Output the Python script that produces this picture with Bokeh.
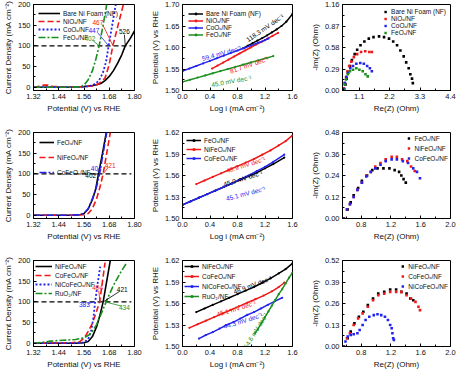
from bokeh.plotting import figure
from bokeh.layouts import gridplot
from bokeh.models import Range1d, FixedTicker, NumeralTickFormatter, Label
from bokeh.core.properties import value
from bokeh.embed import file_html
from bokeh.resources import INLINE

FONT = "Liberation Sans"
CK = "#000000"
CR = "#f01818"
CB = "#2323ee"
CG = "#1a8f1e"

# ---------------- data ----------------
# (A) LSV
A_v_nf = [1.32, 1.40, 1.48, 1.54, 1.56, 1.58, 1.60, 1.62, 1.64, 1.66, 1.68, 1.70, 1.72, 1.74, 1.756, 1.78, 1.80]
A_j_nf = [0, 0, 0, 1, 1.5, 2.5, 4, 6, 9, 16, 26, 40, 58, 79, 100, 118, 136]
A_v_ni = [1.32, 1.35, 1.37, 1.39, 1.41, 1.44, 1.50, 1.56, 1.60, 1.63, 1.66, 1.68, 1.697, 1.722, 1.747]
A_j_ni = [0, 2, 5, 5, 2, 1, 1, 1, 3, 8, 22, 55, 100, 150, 200]
A_v_co = [1.32, 1.50, 1.56, 1.60, 1.63, 1.65, 1.665, 1.677, 1.69, 1.70, 1.711]
A_j_co = [0, 0, 1, 4, 15, 35, 62, 100, 138, 168, 200]
A_v_fe = [1.32, 1.50, 1.54, 1.56, 1.58, 1.60, 1.615, 1.632, 1.65, 1.668]
A_j_fe = [0, 0, 1, 5, 18, 40, 65, 100, 148, 200]
A_ann_text = ["467", "447", "402", "526"]
A_ann_x = [1.626, 1.607, 1.588, 1.752]
A_ann_y = [156, 138, 118, 134]
A_arr_x0 = [1.650, 1.626, 1.604, 1.752]
A_arr_y0 = [150, 131, 112, 127]
A_arr_x1 = [1.697, 1.676, 1.630, 1.756]
A_arr_y1 = [101, 101, 101, 101]

# (B) Tafel
B_nf_x = [0.88, 0.95, 1.02, 1.09, 1.16, 1.23, 1.30, 1.37, 1.44, 1.51, 1.60]
B_nf_y = [1.598, 1.604, 1.610, 1.616, 1.622, 1.628, 1.635, 1.642, 1.650, 1.660, 1.678]
B_ni_x = [0.43, 0.51, 0.59, 0.67, 0.75, 0.83, 0.91, 0.99, 1.07, 1.15, 1.23, 1.31, 1.39]
B_ni_y = [1.551, 1.558, 1.565, 1.572, 1.579, 1.586, 1.593, 1.600, 1.607, 1.613, 1.620, 1.627, 1.634]
B_co_x = [0.0, 0.1, 0.2, 0.3, 0.4, 0.5, 0.6, 0.7, 0.8, 0.9, 1.0, 1.1, 1.2, 1.25]
B_co_y = [1.545, 1.551, 1.557, 1.563, 1.569, 1.575, 1.581, 1.587, 1.593, 1.599, 1.605, 1.611, 1.617, 1.621]
B_fe_x = [0.0, 0.11, 0.22, 0.33, 0.44, 0.55, 0.66, 0.77, 0.88, 0.99, 1.10, 1.21, 1.32]
B_fe_y = [1.520, 1.525, 1.530, 1.535, 1.540, 1.545, 1.550, 1.555, 1.560, 1.565, 1.570, 1.575, 1.580]
B_ann_text = ["118.3 mV dec⁻¹", "59.4 mV dec⁻¹", "81.7 mV dec⁻¹", "45.0 mV dec⁻¹"]
B_ann_x = [1.20, 0.57, 0.97, 0.71]
B_ann_y = [1.646, 1.587, 1.560, 1.522]
B_ann_ang = [0.60, 0.28, 0.33, 0.18]

# (C) Nyquist
C_nf_x = [0.56, 0.61, 0.65, 0.70, 0.77, 0.84, 0.94, 1.03, 1.15, 1.29, 1.45, 1.62, 1.82, 2.00, 2.18, 2.33, 2.47, 2.59, 2.71, 2.80, 2.89, 2.95, 3.01, 3.04]
C_nf_y = [0.02, 0.08, 0.16, 0.24, 0.33, 0.41, 0.49, 0.55, 0.61, 0.66, 0.70, 0.72, 0.73, 0.72, 0.70, 0.66, 0.61, 0.54, 0.46, 0.38, 0.30, 0.22, 0.16, 0.10]
C_ni_x = [0.54, 0.58, 0.63, 0.68, 0.74, 0.82, 0.91, 1.03, 1.17, 1.32, 1.47, 1.56]
C_ni_y = [0.03, 0.10, 0.18, 0.26, 0.33, 0.39, 0.45, 0.49, 0.52, 0.53, 0.52, 0.52]
C_co_x = [0.55, 0.59, 0.64, 0.70, 0.78, 0.88, 1.00, 1.14, 1.27, 1.39, 1.49, 1.56]
C_co_y = [0.02, 0.10, 0.18, 0.24, 0.30, 0.33, 0.36, 0.37, 0.36, 0.33, 0.30, 0.26]
C_fe_x = [0.54, 0.58, 0.63, 0.69, 0.77, 0.88, 1.00, 1.11, 1.23, 1.33, 1.41]
C_fe_y = [0.01, 0.08, 0.15, 0.22, 0.26, 0.28, 0.30, 0.28, 0.26, 0.22, 0.19]

# (D) LSV
D_v_fe = [1.32, 1.50, 1.54, 1.56, 1.58, 1.60, 1.615, 1.629, 1.648, 1.666]
D_j_fe = [0, 0, 1, 4, 15, 38, 62, 100, 150, 200]
D_v_nf = [1.32, 1.52, 1.56, 1.58, 1.60, 1.62, 1.636, 1.651, 1.668, 1.685]
D_j_nf = [0, 0, 1, 4, 16, 40, 68, 100, 150, 200]
D_v_cf = [1.32, 1.50, 1.54, 1.56, 1.58, 1.60, 1.618, 1.634, 1.651, 1.668]
D_j_cf = [0, 0, 1, 4, 16, 40, 65, 100, 150, 200]
D_ann_text = ["404", "402", "421"]
D_ann_x = [1.618, 1.592, 1.684]
D_ann_y = [114, 96, 121]
D_arr_x0 = [1.624, 1.605, 1.674]
D_arr_y0 = [108, 99, 115]
D_arr_x1 = [1.633, 1.627, 1.653]
D_arr_y1 = [101, 100, 101]

# (E) Tafel
E_fe_x = [0.0, 0.12, 0.24, 0.36, 0.48, 0.60, 0.72, 0.84, 0.96, 1.08, 1.20, 1.32, 1.48]
E_fe_y = [1.519, 1.524, 1.529, 1.534, 1.539, 1.544, 1.549, 1.554, 1.559, 1.564, 1.570, 1.576, 1.585]
E_nf_x = [0.2, 0.32, 0.44, 0.56, 0.68, 0.80, 0.92, 1.04, 1.16, 1.28, 1.40, 1.50, 1.60]
E_nf_y = [1.548, 1.553, 1.558, 1.563, 1.568, 1.573, 1.578, 1.583, 1.589, 1.595, 1.602, 1.608, 1.616]
E_cf_x = [0.0, 0.12, 0.24, 0.36, 0.48, 0.60, 0.72, 0.84, 0.96, 1.08, 1.20, 1.32, 1.48]
E_cf_y = [1.519, 1.524, 1.529, 1.534, 1.539, 1.544, 1.549, 1.555, 1.560, 1.566, 1.572, 1.579, 1.589]
E_ann_text = ["48.9 mV dec⁻¹", "45.0 mV dec⁻¹", "45.1 mV dec⁻¹"]
E_ann_x = [0.92, 0.88, 0.92]
E_ann_y = [1.575, 1.556, 1.535]
E_ann_ang = [0.30, 0.30, 0.26]
E_ann_col = [CR, CK, CB]

# (F) Nyquist
F_fe_x = [0.57, 0.62, 0.66, 0.70, 0.76, 0.81, 0.88, 0.95, 1.02, 1.10, 1.18, 1.25, 1.31, 1.34, 1.37, 1.40]
F_fe_y = [0.00, 0.05, 0.09, 0.13, 0.17, 0.21, 0.24, 0.27, 0.28, 0.28, 0.28, 0.27, 0.26, 0.24, 0.22, 0.20]
F_nf_x = [0.56, 0.61, 0.65, 0.70, 0.75, 0.81, 0.87, 0.93, 0.99, 1.06, 1.13, 1.21, 1.28, 1.35, 1.42, 1.47, 1.52]
F_nf_y = [0.00, 0.05, 0.08, 0.12, 0.16, 0.20, 0.24, 0.26, 0.29, 0.31, 0.33, 0.345, 0.345, 0.33, 0.32, 0.29, 0.265]
F_cf_x = [0.56, 0.61, 0.65, 0.70, 0.75, 0.81, 0.87, 0.93, 0.99, 1.06, 1.13, 1.21, 1.28, 1.36, 1.43, 1.50, 1.55, 1.59]
F_cf_y = [0.00, 0.05, 0.08, 0.12, 0.16, 0.20, 0.235, 0.26, 0.28, 0.30, 0.32, 0.33, 0.33, 0.32, 0.31, 0.28, 0.26, 0.225]

# (G) LSV
G_v_nf = [1.32, 1.52, 1.56, 1.58, 1.60, 1.62, 1.636, 1.651, 1.668, 1.685]
G_j_nf = [0, 0, 1, 4, 16, 40, 68, 100, 150, 200]
G_v_cf = [1.32, 1.50, 1.54, 1.56, 1.575, 1.60, 1.62, 1.634, 1.648, 1.660]
G_j_cf = [0, 1, 4, 12, 24, 48, 78, 100, 150, 195]
G_v_nc = [1.32, 1.54, 1.56, 1.58, 1.595, 1.605, 1.613, 1.625, 1.637]
G_j_nc = [0, 0, 2, 10, 32, 62, 100, 145, 185]
G_v_ru = [1.32, 1.36, 1.40, 1.46, 1.52, 1.56, 1.59, 1.62, 1.645, 1.665, 1.70, 1.735, 1.76]
G_j_ru = [0, 2, 5, 7, 9, 13, 22, 45, 75, 100, 140, 172, 192]
G_ann_text = ["421", "434", "404", "383"]
G_ann_x = [1.742, 1.752, 1.625, 1.562]
G_ann_y = [130, 86, 134, 93]
G_arr_x0 = [1.728, 1.736, 1.630, 1.577]
G_arr_y0 = [125, 90, 127, 96]
G_arr_x1 = [1.655, 1.668, 1.636, 1.611]
G_arr_y1 = [101, 99, 101, 100]
G_ann_col = [CK, CG, CR, CB]

# (H) Tafel
H_nf_x = [0.2, 0.32, 0.44, 0.56, 0.68, 0.80, 0.92, 1.04, 1.16, 1.28, 1.40, 1.50, 1.60]
H_nf_y = [1.548, 1.553, 1.558, 1.563, 1.568, 1.573, 1.578, 1.583, 1.589, 1.595, 1.602, 1.608, 1.616]
H_cf_x = [0.1, 0.22, 0.34, 0.46, 0.58, 0.70, 0.82, 0.94, 1.06, 1.18, 1.30, 1.40, 1.48]
H_cf_y = [1.526, 1.531, 1.536, 1.541, 1.546, 1.551, 1.556, 1.561, 1.566, 1.571, 1.577, 1.583, 1.589]
H_nc_x = [0.24, 0.34, 0.44, 0.54, 0.64, 0.74, 0.84, 0.94, 1.04, 1.14, 1.24, 1.34, 1.45]
H_nc_y = [1.511, 1.516, 1.520, 1.525, 1.530, 1.534, 1.539, 1.544, 1.548, 1.553, 1.558, 1.563, 1.568]
H_ru_x = [1.05, 1.10, 1.15, 1.20, 1.25, 1.30, 1.35, 1.40, 1.45, 1.50, 1.55, 1.60]
H_ru_y = [1.518, 1.525, 1.533, 1.541, 1.549, 1.557, 1.565, 1.573, 1.580, 1.588, 1.596, 1.603]
H_ann_text = ["48.9 mV dec⁻¹", "45.1 mV dec⁻¹", "44.3 mV dec⁻¹", "154.6 mV dec⁻¹"]
H_ann_x = [1.02, 0.78, 0.88, 1.05]
H_ann_y = [1.586, 1.553, 1.536, 1.520]
H_ann_ang = [0.36, 0.30, 0.30, 1.02]
H_ann_col = [CK, CR, CB, CG]

# (I) Nyquist
I_nf_x = [0.57, 0.62, 0.66, 0.71, 0.77, 0.83, 0.89, 0.96, 1.03, 1.11, 1.19, 1.27, 1.34, 1.41, 1.46, 1.50]
I_nf_y = [0.00, 0.05, 0.09, 0.14, 0.18, 0.21, 0.25, 0.29, 0.32, 0.33, 0.345, 0.345, 0.33, 0.32, 0.29, 0.28]
I_cf_x = [0.56, 0.61, 0.65, 0.70, 0.76, 0.82, 0.89, 0.96, 1.03, 1.11, 1.19, 1.27, 1.34, 1.41, 1.47, 1.53, 1.57, 1.59]
I_cf_y = [0.00, 0.05, 0.08, 0.13, 0.17, 0.20, 0.24, 0.28, 0.31, 0.32, 0.33, 0.33, 0.33, 0.31, 0.29, 0.27, 0.24, 0.22]
I_nc_x = [0.56, 0.59, 0.62, 0.66, 0.70, 0.75, 0.78, 0.82, 0.86, 0.91, 0.97, 1.02, 1.07, 1.12, 1.16, 1.19, 1.21, 1.22, 1.23, 1.24]
I_nc_y = [0.00, 0.03, 0.06, 0.07, 0.074, 0.08, 0.10, 0.13, 0.16, 0.18, 0.19, 0.195, 0.19, 0.18, 0.16, 0.13, 0.11, 0.08, 0.05, 0.04]

# axes ticks
LSV_xt = [1.32, 1.44, 1.56, 1.68, 1.80]
LSV_yt = [0, 50, 100, 150, 200]
TAF_xt = [0.0, 0.4, 0.8, 1.2, 1.6]
B_yt = [1.50, 1.55, 1.60, 1.65, 1.70]
EH_yt = [1.50, 1.53, 1.56, 1.59, 1.62]
C_xt = [1.1, 2.2, 3.3, 4.4]
C_yt = [0.00, 0.29, 0.58, 0.87, 1.16]
FI_xt = [0.8, 1.2, 1.6, 2.0]
F_yt = [0.00, 0.12, 0.24, 0.36, 0.48]
I_yt = [0.00, 0.13, 0.26, 0.39, 0.52]
REF_v = [1.32, 1.785]
REF_j = [100, 100]

# ---------------- layout ----------------
COLW = [(26, 10, 144), (38, 10, 158), (40, 8, 156)]
ROWH = [(4, 26, 116), (16, 26, 128), (16, 27, 129)]
TAGX = [0, 5, 8]


def mids(t):
    m = [(a + b) / 2 for a, b in zip(t[:-1], t[1:])]
    step = t[1] - t[0]
    m = [t[0] - step / 2] + m + [t[-1] + step / 2]
    return m


def make(col, row, xr, yr, xt, yt, xf, yf, xl, yl, tag):
    L, Rb, W = COLW[col]
    T, Bb, H = ROWH[row]
    p = figure(width=W, height=H, x_range=Range1d(*xr), y_range=Range1d(*yr),
               output_backend="svg", toolbar_location=None,
               min_border_left=L, min_border_right=Rb, min_border_top=T, min_border_bottom=Bb)
    p.grid.visible = False
    p.outline_line_color = "black"
    p.outline_line_alpha = 1
    p.outline_line_width = 1
    p.background_fill_color = "white"
    p.xaxis.ticker = FixedTicker(ticks=xt, minor_ticks=mids(xt))
    p.yaxis.ticker = FixedTicker(ticks=yt, minor_ticks=mids(yt))
    p.xaxis.formatter = NumeralTickFormatter(format=xf)
    p.yaxis.formatter = NumeralTickFormatter(format=yf)
    p.xaxis.axis_label = xl
    p.yaxis.axis_label = yl
    for ax in (p.xaxis[0], p.yaxis[0]):
        ax.major_tick_in = 3
        ax.major_tick_out = 0
        ax.minor_tick_in = 2
        ax.minor_tick_out = 0
        ax.axis_line_color = "black"
        ax.major_label_text_font = FONT
        ax.major_label_text_font_size = "7.5px"
        ax.major_label_text_color = "#111111"
        ax.axis_label_text_font = FONT
        ax.axis_label_text_font_size = "8px"
        ax.axis_label_text_font_style = "normal"
        ax.axis_label_text_color = "#111111"
        ax.axis_label_standoff = 2
        ax.major_label_standoff = 3
    fh = H - T - Bb
    p.add_layout(Label(x=-L + TAGX[col], y=fh + T - 1, x_units="screen", y_units="screen",
                       text=tag, text_font=FONT, text_font_size="10px",
                       text_baseline="top", text_align="left", text_color="#111111"))
    return p


def style_legend(p, loc, pad, margin, spacing, gw, lh=8):
    lg = p.legend[0]
    lg.location = loc
    lg.label_text_font = FONT
    lg.label_text_font_size = "6.5px"
    lg.label_text_color = "#111111"
    lg.glyph_width = gw
    lg.glyph_height = lh
    lg.label_height = lh
    lg.spacing = spacing
    lg.padding = pad
    lg.margin = margin
    lg.label_standoff = 3
    lg.background_fill_alpha = 0
    lg.border_line_alpha = 0


def ann(p, xs, ys, texts, cols, angs=None, size="6.5px"):
    p.text(x=xs, y=ys, text=texts, text_color=cols, angle=angs if angs else 0,
           text_font=value(FONT), text_font_size=value(size),
           text_align="center", text_baseline="middle")


def arrows(p, x0, y0, x1, y1, cols):
    p.segment(x0=x0, y0=y0, x1=x1, y1=y1, line_color=cols, line_width=0.8)


def tafel(p, x, y, c, lab):
    p.line(x, y, line_color=c, line_width=1.5, legend_label=lab)
    p.scatter(x, y, marker="circle", size=2.2, fill_color=c, line_color=None, legend_label=lab)


def nyq(p, x, y, c, lab):
    p.scatter(x, y, marker="square", size=2.6, fill_color=c, line_color=None, legend_label=lab)


LSV_X = "Potential (V) vs RHE"
LSV_Y = "Current Density (mA cm⁻²)"
TAF_X = "Log i (mA cm⁻²)"
TAF_Y = "Potential (V) vs RHE"
NYQ_X = "Re(Z) (Ohm)"
NYQ_Y = "-Im(Z) (Ohm)"

# (A)
pa = make(0, 0, (1.32, 1.80), (-8, 200), LSV_xt, LSV_yt, "0.00", "0", LSV_X, LSV_Y, "(A)")
pa.line(REF_v, REF_j, line_color="black", line_width=1.2, line_dash="5 3")
pa.line(A_v_nf, A_j_nf, line_color=CK, line_width=1.6, legend_label="Bare Ni Foam (NF)")
pa.line(A_v_ni, A_j_ni, line_color=CR, line_width=1.6, line_dash="6 3", legend_label="NiOₓ/NF")
pa.line(A_v_co, A_j_co, line_color=CB, line_width=1.8, line_dash="2 2", legend_label="CoOₓ/NF")
pa.line(A_v_fe, A_j_fe, line_color=CG, line_width=1.6, line_dash="7 2 2 2", legend_label="FeOₓ/NF")
arrows(pa, A_arr_x0, A_arr_y0, A_arr_x1, A_arr_y1, [CR, CB, CG, CK])
ann(pa, A_ann_x, A_ann_y, A_ann_text, [CR, CB, CG, CK])
style_legend(pa, "top_left", 2, 3, 0, 22)

# (B)
pb = make(1, 0, (0.0, 1.6), (1.50, 1.70), TAF_xt, B_yt, "0.0", "0.00", TAF_X, TAF_Y, "(B)")
tafel(pb, B_nf_x, B_nf_y, CK, "Bare Ni Foam (NF)")
tafel(pb, B_ni_x, B_ni_y, CR, "NiOₓ/NF")
tafel(pb, B_co_x, B_co_y, CB, "CoOₓ/NF")
tafel(pb, B_fe_x, B_fe_y, CG, "FeOₓ/NF")
ann(pb, B_ann_x, B_ann_y, B_ann_text, [CK, CB, CR, CG], B_ann_ang)
style_legend(pb, "top_left", 3, 3, 0, 15, lh=7)

# (C)
pc = make(2, 0, (0.5, 4.4), (0.0, 1.16), C_xt, C_yt, "0.0", "0.00", NYQ_X, NYQ_Y, "(C)")
nyq(pc, C_nf_x, C_nf_y, CK, "Bare Ni Foam (NF)")
nyq(pc, C_ni_x, C_ni_y, CR, "NiOₓ/NF")
nyq(pc, C_co_x, C_co_y, CB, "CoOₓ/NF")
nyq(pc, C_fe_x, C_fe_y, CG, "FeOₓ/NF")
style_legend(pc, "top_right", 2, 2, 0, 6, lh=7)

# (D)
pd = make(0, 1, (1.32, 1.80), (-8, 200), LSV_xt, LSV_yt, "0.00", "0", LSV_X, LSV_Y, "(D)")
pd.line(REF_v, REF_j, line_color="black", line_width=1.2, line_dash="5 3")
pd.line(D_v_fe, D_j_fe, line_color=CK, line_width=1.6, legend_label="FeOₓ/NF")
pd.line(D_v_nf, D_j_nf, line_color=CR, line_width=1.6, line_dash="6 3", legend_label="NiFeOₓ/NF")
pd.line(D_v_cf, D_j_cf, line_color=CB, line_width=1.6, line_dash="7 2 2 2", legend_label="CoFeOₓ/NF")
arrows(pd, D_arr_x0, D_arr_y0, D_arr_x1, D_arr_y1, [CB, CK, CR])
ann(pd, D_ann_x, D_ann_y, D_ann_text, [CB, CK, CR])
style_legend(pd, "top_left", 4, 2, 7, 15)

# (E)
pe = make(1, 1, (0.0, 1.6), (1.50, 1.62), TAF_xt, EH_yt, "0.0", "0.00", TAF_X, TAF_Y, "(E)")
tafel(pe, E_fe_x, E_fe_y, CK, "FeOₓ/NF")
tafel(pe, E_nf_x, E_nf_y, CR, "NiFeOₓ/NF")
tafel(pe, E_cf_x, E_cf_y, CB, "CoFeOₓ/NF")
ann(pe, E_ann_x, E_ann_y, E_ann_text, E_ann_col, E_ann_ang)
style_legend(pe, "top_left", 2, 2, 1, 15)

# (F)
pf = make(2, 1, (0.55, 2.0), (0.0, 0.48), FI_xt, F_yt, "0.0", "0.00", NYQ_X, NYQ_Y, "(F)")
nyq(pf, F_fe_x, F_fe_y, CK, "FeOₓ/NF")
nyq(pf, F_nf_x, F_nf_y, CR, "NiFeOₓ/NF")
nyq(pf, F_cf_x, F_cf_y, CB, "CoFeOₓ/NF")
style_legend(pf, "top_right", 1, 1, 2, 6)

# (G)
pg = make(0, 2, (1.32, 1.80), (-8, 200), LSV_xt, LSV_yt, "0.00", "0", LSV_X, LSV_Y, "(G)")
pg.line(REF_v, REF_j, line_color="black", line_width=1.2, line_dash="5 3")
pg.line(G_v_nf, G_j_nf, line_color=CK, line_width=1.6, legend_label="NiFeOₓ/NF")
pg.line(G_v_cf, G_j_cf, line_color=CR, line_width=1.6, line_dash="6 3", legend_label="CoFeOₓ/NF")
pg.line(G_v_nc, G_j_nc, line_color=CB, line_width=1.8, line_dash="2 2", legend_label="NiCoFeOₓ/NF")
pg.line(G_v_ru, G_j_ru, line_color=CG, line_width=1.6, line_dash="7 2 2 2", legend_label="RuO₂/NF")
arrows(pg, G_arr_x0, G_arr_y0, G_arr_x1, G_arr_y1, G_ann_col)
ann(pg, G_ann_x, G_ann_y, G_ann_text, G_ann_col)
style_legend(pg, "top_left", 1, 1, 1, 17)

# (H)
ph = make(1, 2, (0.0, 1.6), (1.50, 1.62), TAF_xt, EH_yt, "0.0", "0.00", TAF_X, TAF_Y, "(H)")
tafel(ph, H_nf_x, H_nf_y, CK, "NiFeOₓ/NF")
tafel(ph, H_cf_x, H_cf_y, CR, "CoFeOₓ/NF")
tafel(ph, H_nc_x, H_nc_y, CB, "NiCoFeOₓ/NF")
tafel(ph, H_ru_x, H_ru_y, CG, "RuO₂/NF")
ann(ph, H_ann_x, H_ann_y, H_ann_text, H_ann_col, H_ann_ang)
style_legend(ph, "top_left", 1, 1, 2, 15)

# (I)
pi = make(2, 2, (0.55, 2.0), (0.0, 0.52), FI_xt, I_yt, "0.0", "0.00", NYQ_X, NYQ_Y, "(I)")
nyq(pi, I_nf_x, I_nf_y, CK, "NiFeOₓ/NF")
nyq(pi, I_cf_x, I_cf_y, CR, "CoFeOₓ/NF")
nyq(pi, I_nc_x, I_nc_y, CB, "NiCoFeOₓ/NF")
style_legend(pi, "top_right", 1, 1, 2, 6)

grid = gridplot([[pa, pb, pc], [pd, pe, pf], [pg, ph, pi]], toolbar_location=None)
open("out.html", "w").write(file_html(grid, INLINE))
